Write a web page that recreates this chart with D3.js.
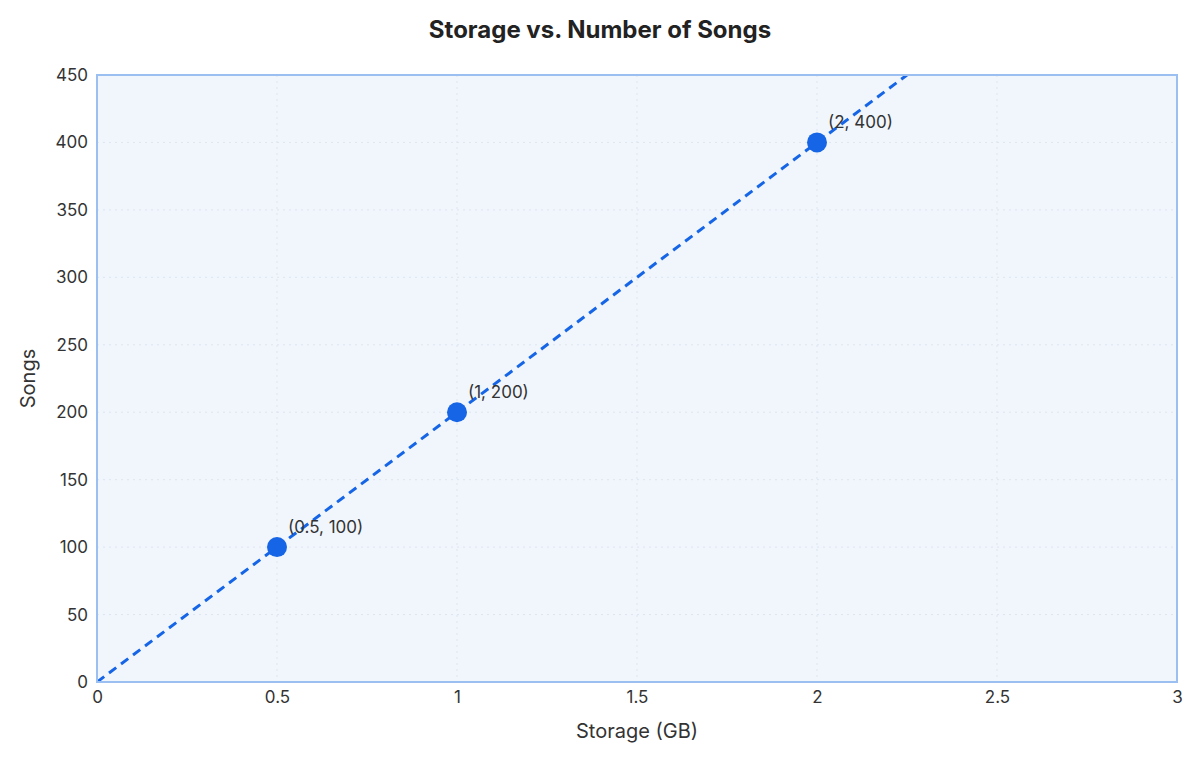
<html>
<head>
<meta charset="utf-8">
<script src="https://d3js.org/d3.v7.min.js"></script>
<style>body{margin:0;background:#fff;font-family:Inter,"Noto Sans",sans-serif;}</style>
</head>
<body>
<svg id="chart"></svg>
<script>
var storage = [0.5, 1, 2];
var songs = [100, 200, 400];
var lineX = [0, 2.25];
var lineY = [0, 450];
var xTicks = [0, 0.5, 1, 1.5, 2, 2.5, 3];
var yTicks = [0, 50, 100, 150, 200, 250, 300, 350, 400, 450];

var W = 1200, H = 760;
var m = {left: 97, right: 23, top: 75, bottom: 78};
var svg = d3.select("#chart").attr("width", W).attr("height", H);
var x = d3.scaleLinear().domain([0, 3]).range([m.left, W - m.right]);
var y = d3.scaleLinear().domain([0, 450]).range([H - m.bottom, m.top]);

svg.append("rect").attr("x", m.left).attr("y", m.top)
  .attr("width", x(3) - x(0)).attr("height", y(0) - y(450))
  .style("fill", "#f1f6fd");

svg.append("clipPath").attr("id", "clip").append("rect")
  .attr("x", m.left).attr("y", m.top)
  .attr("width", x(3) - x(0)).attr("height", y(0) - y(450));

var grid = svg.append("g");
grid.selectAll(".gx").data(xTicks.slice(1, -1)).enter().append("line")
  .attr("x1", d => x(d)).attr("x2", d => x(d)).attr("y1", m.top).attr("y2", y(0))
  .attr("stroke", "#dde5f0").attr("stroke-dasharray", "2,4");
grid.selectAll(".gy").data(yTicks.slice(1, -1)).enter().append("line")
  .attr("y1", d => y(d)).attr("y2", d => y(d)).attr("x1", m.left).attr("x2", x(3))
  .attr("stroke", "#dde5f0").attr("stroke-dasharray", "2,4");

svg.append("path").datum(lineX.map((d, i) => [d, lineY[i]]))
  .attr("clip-path", "url(#clip)")
  .attr("d", d3.line().x(d => x(d[0])).y(d => y(d[1])))
  .attr("fill", "none").attr("stroke", "#1565e6").attr("stroke-width", 3)
  .attr("stroke-dasharray", "9,6");

svg.append("rect").attr("x", m.left).attr("y", m.top)
  .attr("width", x(3) - x(0)).attr("height", y(0) - y(450))
  .style("fill", "none").style("stroke", "#9cbff2").style("stroke-width", 2);

var xa = svg.append("g").attr("transform", "translate(0," + y(0) + ")")
  .call(d3.axisBottom(x).tickValues(xTicks).tickFormat(d3.format("")).tickSize(0).tickPadding(9));
var ya = svg.append("g").attr("transform", "translate(" + m.left + ",0)")
  .call(d3.axisLeft(y).tickValues(yTicks).tickSize(0).tickPadding(9));
[xa, ya].forEach(a => {
  a.select(".domain").remove();
  a.selectAll("text").style("font-size", "17px").style("fill", "#333").style("font-family", "Inter,sans-serif");
});

var pts = storage.map((d, i) => ({x: d, y: songs[i]}));
svg.selectAll(".pt").data(pts).enter().append("circle")
  .attr("cx", d => x(d.x)).attr("cy", d => y(d.y)).attr("r", 10).attr("fill", "#1565e6");
svg.selectAll(".lb").data(pts).enter().append("text")
  .attr("x", d => x(d.x) + 11).attr("y", d => y(d.y) - 14)
  .text(d => "(" + d.x + ", " + d.y + ")")
  .style("font-size", "17px").style("fill", "#333");

svg.append("text").attr("x", W / 2).attr("y", 38).attr("text-anchor", "middle")
  .text("Storage vs. Number of Songs").style("font-size", "24px").style("font-weight", "bold").style("fill", "#222");
svg.append("text").attr("x", (x(0) + x(3)) / 2).attr("y", 738).attr("text-anchor", "middle")
  .text("Storage (GB)").style("font-size", "20px").style("fill", "#333");
svg.append("text").attr("transform", "translate(35," + (y(225)) + ") rotate(-90)").attr("text-anchor", "middle")
  .text("Songs").style("font-size", "20px").style("fill", "#333");
</script>
</body>
</html>
